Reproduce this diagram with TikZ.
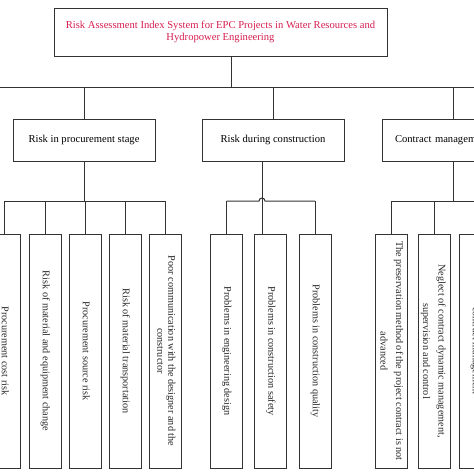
\documentclass[tikz,border=0pt]{standalone}
\usepackage{fontspec}
\setmainfont{Liberation Serif}
\usepackage{graphicx}

\definecolor{titlered}{RGB}{214,30,80}
\definecolor{linegray}{RGB}{50,50,50}

% vertical text for the leaf boxes
\newcommand{\vlabel}[2][1]{\rotatebox{-90}{\renewcommand{\arraystretch}{#1}\begin{tabular}{@{}c@{}}#2\end{tabular}}}

\begin{document}
\begin{tikzpicture}[x=1pt, y=-1pt, line width=1pt, draw=linegray,
	box/.style={draw=linegray, rectangle, inner sep=0pt, align=center, font=\fontsize{10.6}{12.2}\selectfont},
	stagebox/.style={box, minimum width=142pt, minimum height=42pt},
	leaf/.style={draw=linegray, rectangle, inner sep=0pt, minimum width=32pt, minimum height=234pt, text=black!85, font=\fontsize{10.2}{11}\selectfont}]

	\useasboundingbox (0,0) rectangle (474,474);
	\clip (0,0) rectangle (474,474);

	% root and stages
	\node[box, minimum width=333pt, minimum height=48pt, text=titlered] (root) at (220.5,32)
		{Risk Assessment Index System for EPC Projects in Water Resources and\\Hydropower Engineering};
	\node[stagebox] (proc) at (84,140) {Risk in procurement stage};
	\node[stagebox] (cons) at (273,140) {Risk during construction};
	\node[stagebox, text width=116pt, align=left] (cont) at (453,140) {Contract management};

	% leaves
	\node[leaf] (p1) at (4,351) {\vlabel{Procurement cost risk}};
	\node[leaf] (p2) at (45,351) {\vlabel{Risk of material and equipment change}};
	\node[leaf] (p3) at (85,351) {\vlabel{Procurement source risk}};
	\node[leaf] (p4) at (125,351) {\vlabel{Risk of material transportation}};
	\node[leaf] (p5) at (165,351) {\vlabel{Poor communication with the designer and the\\constructor}};

	\node[leaf] (c1) at (226.5,351) {\vlabel{Problems in engineering design}};
	\node[leaf] (c2) at (270.5,351) {\vlabel{Problems in construction safety}};
	\node[leaf] (c3) at (315,351) {\vlabel{Problems in construction quality}};

	\node[leaf] (m1) at (391.5,351) {\vlabel[1.4]{The preservation method of the project contract is not\\advanced}};
	\node[leaf] (m2) at (434,351) {\vlabel[1.4]{Neglect of contract dynamic management,\\supervision and control}};
	\node[leaf] (m3) at (475,351) {\vlabel{contract management}\hspace{14pt}};

	% first bus
	\coordinate (j0) at (231,87);
	\coordinate (busl) at (0,87);
	\coordinate (busr) at (474,87);
	\draw (root.south -| j0) -- (j0);
	\draw (busl) -- (busr);
	\foreach \s in {proc,cons,cont}
		\draw (\s.north) -- (\s.north |- j0);

	% procurement
	\coordinate (j1) at (84,201);
	\draw (proc.south) -- (j1);
	\draw (p1.north |- j1) -- (p5.north |- j1);
	\foreach \n in {p1,p2,p3,p4,p5}
		\draw (\n.north) -- (\n.north |- j1);

	% construction, with the little hop
	\coordinate (j2) at (262,201);
	\draw (cons.south -| j2) -- (c2.north -| j2);
	\draw (c1.north |- j2) -- ([xshift=-3pt]j2) arc[start angle=180, end angle=0, radius=3pt] -- (c3.north |- j2);
	\draw (c1.north) -- (c1.north |- j2);
	\draw (c3.north) -- (c3.north |- j2);

	% contract
	\coordinate (j3) at (453,201);
	\draw (cont.south) -- (j3);
	\draw (m1.north |- j3) -- (m3.north |- j3);
	\foreach \n in {m1,m2,m3}
		\draw (\n.north) -- (\n.north |- j3);
\end{tikzpicture}
\end{document}
